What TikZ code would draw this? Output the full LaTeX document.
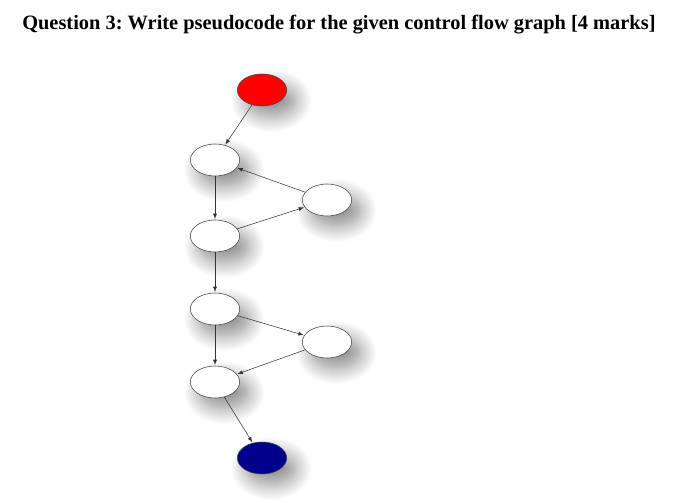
\documentclass[tikz,border=0pt]{standalone}
\usepackage{fontspec}
\setmainfont{Liberation Serif}
\usetikzlibrary{arrows,shapes.geometric,shadows.blur}

\begin{document}
\frenchspacing
\begin{tikzpicture}[x=0.75pt,y=-0.75pt,
        blk/.style={draw=black!75, thin, ellipse, inner sep=0pt, minimum width=37pt, minimum height=24pt,
            blur shadow={shadow xshift=7pt, shadow yshift=-8pt, shadow blur radius=12pt, shadow blur steps=16, shadow opacity=45}},
        edge/.style={-latex, black!80, thin, shorten >=0.5pt}]
        \useasboundingbox (0,0) rectangle (679,503);
        
        \node[anchor=base west, inner sep=0pt, font=\bfseries\fontsize{15.3}{18}\selectfont] (title) at (22,30) {Question 3: Write pseudocode for the given control flow graph [4 marks]};
        
        \node[blk, fill=red] (start) at (262,90) {};
        \node[blk, fill=white] (n1) at (215,160) {};
        \node[blk, fill=white] (s1) at (327,200) {};
        \node[blk, fill=white] (n2) at (215,236) {};
        \node[blk, fill=white] (n3) at (215,309) {};
        \node[blk, fill=white] (s2) at (327,342) {};
        \node[blk, fill=white] (n4) at (215,382) {};
        \node[blk, fill=blue!55!black] (stop) at (262,458) {};
        
        \draw [edge] (start) -- (n1);
        \draw [edge] (n1) -- (n2);
        \draw [edge] (s1) -- (n1);
        \draw [edge] (n2) -- (s1);
        \draw [edge] (n2) -- (n3);
        \draw [edge] (n3) -- (s2);
        \draw [edge] (n3) -- (n4);
        \draw [edge] (s2) -- (n4);
        \draw [edge] (n4) -- (stop);
        \end{tikzpicture}
\end{document}
